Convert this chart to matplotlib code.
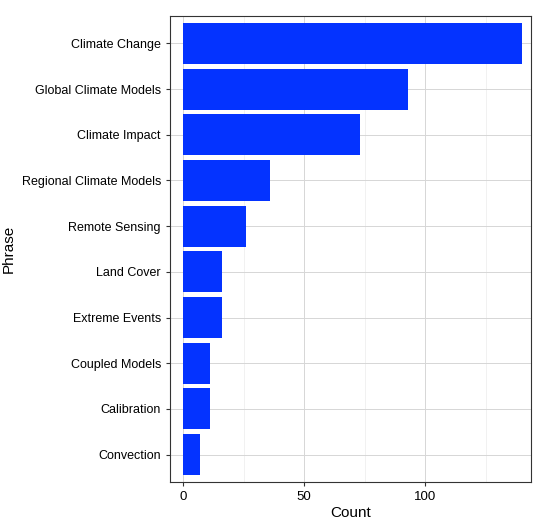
import matplotlib.pyplot as plt

phrases = ["Climate Change", "Global Climate Models", "Climate Impact",
           "Regional Climate Models", "Remote Sensing", "Land Cover",
           "Extreme Events", "Coupled Models", "Calibration", "Convection"]
counts = [140, 93, 73, 36, 26, 16, 16, 11, 11, 7]

plt.rcParams['font.family'] = ['Liberation Sans', 'DejaVu Sans']

fig = plt.figure(figsize=(5.5, 5.3), dpi=100)
ax = fig.add_axes([170 / 550, 48 / 530, 361 / 550, 466 / 530])

y = list(range(len(phrases)))[::-1]
ax.barh(y, counts, height=0.9, color="#0433FF", zorder=3)

ax.set_xlim(-5.4, 143.8)
ax.set_ylim(-0.6, len(phrases) - 0.4)
ax.set_yticks(y)
ax.set_yticklabels(phrases, fontsize=9)
ax.set_xticks([0, 50, 100])
ax.set_xticks([25, 75, 125], minor=True)
ax.tick_params(axis='x', labelsize=9.5)
ax.tick_params(length=3, color="#333333")
ax.tick_params(axis='x', which='minor', length=0)

ax.grid(True, which='major', color="#d6d6d6", linewidth=0.7, zorder=0)
ax.grid(True, which='minor', axis='x', color="#ececec", linewidth=0.5, zorder=0)
for s in ax.spines.values():
    s.set_color("#333333")
    s.set_linewidth(0.8)

ax.set_xlabel("Count", fontsize=11, labelpad=2)
ax.set_ylabel("Phrase", fontsize=11)

fig.savefig("out.png", dpi=100)
